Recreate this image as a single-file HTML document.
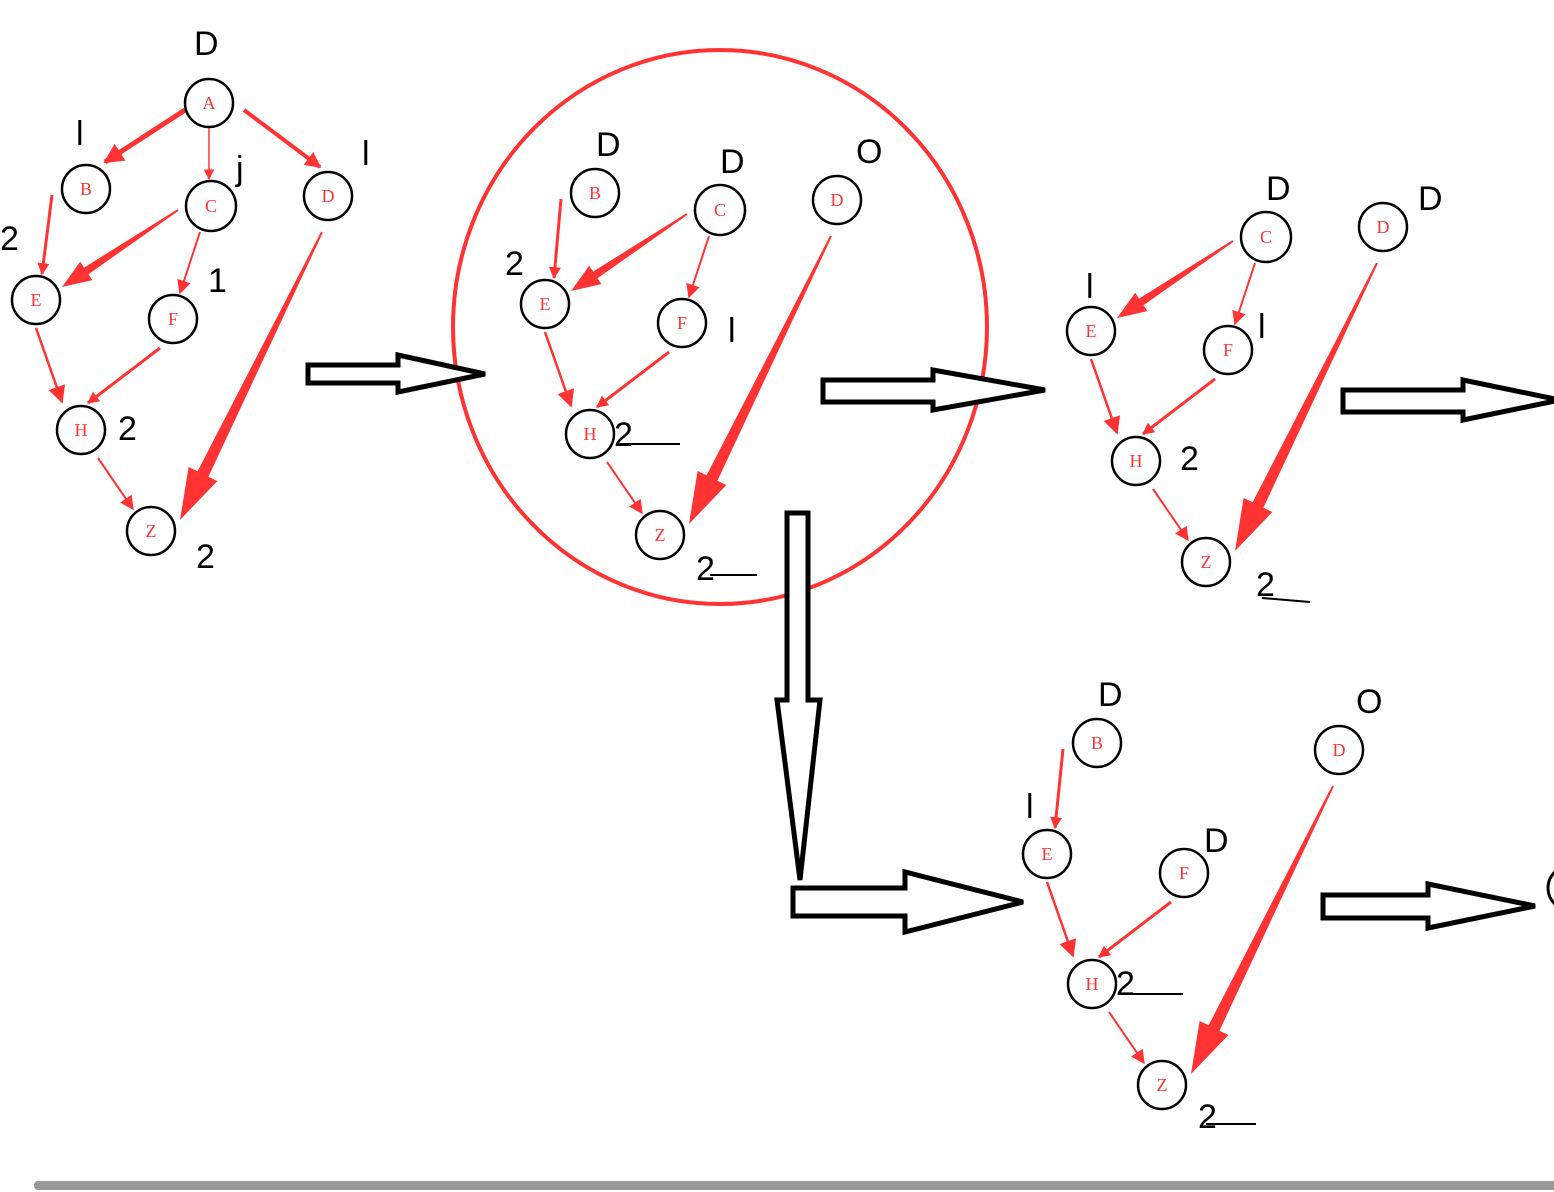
<!DOCTYPE html>
<html><head><meta charset="utf-8"><style>
html,body{margin:0;padding:0;background:#fff;width:1554px;height:1192px;overflow:hidden}
svg{display:block}
.n{fill:#fff;stroke:#000;stroke-width:2.5}
.nl{font-family:"Liberation Serif",serif;font-size:18px;fill:#f33;text-anchor:middle}
.e{stroke:#f33;fill:none}
.w{fill:#f33}
.h{font-family:"Liberation Sans",sans-serif;font-size:34px;fill:#000}
.ar{fill:#fff;stroke:#000;stroke-width:5;stroke-linejoin:miter}
</style></head><body>
<svg width="1554" height="1192" viewBox="0 0 1554 1192">
<defs>
<marker id="m" viewBox="0 0 10 10" refX="9" refY="5" markerWidth="4" markerHeight="4" orient="auto" markerUnits="strokeWidth"><path d="M0,0L10,5L0,10z" fill="#f33"/></marker>
<marker id="mt" viewBox="0 0 10 10" refX="9" refY="5" markerWidth="7" markerHeight="7" orient="auto" markerUnits="strokeWidth"><path d="M0,0L10,5L0,10z" fill="#f33"/></marker>
</defs>

<ellipse cx="720" cy="327" rx="267" ry="277" fill="none" stroke="#f33" stroke-width="4"/>

<polygon class="ar" points="308,365 398,365 398,355 485,374 398,392 398,383 308,383"/>
<polygon class="ar" points="823,380 933,380 933,370 1045,390 933,410 933,402 823,402"/>
<polygon class="ar" points="1343,390 1463,390 1463,380 1560,400 1463,420 1463,412 1343,412"/>
<polygon class="ar" points="1323,895 1428,895 1428,884 1535,906 1428,928 1428,918 1323,918"/>
<polygon class="ar" points="787,513 808,513 808,700 820,700 800,880 777,700 787,700"/>
<polygon class="ar" points="793,888 905,888 905,872 1023,902 905,932 905,916 793,916"/>

<!-- Graph 1 -->
<line class="e" x1="185" y1="110" x2="105" y2="162" stroke-width="5" marker-end="url(#m)"/>
<line class="e" x1="209" y1="128" x2="209" y2="179" stroke-width="1.5" marker-end="url(#mt)"/>
<line class="e" x1="244" y1="110" x2="320" y2="167" stroke-width="4" marker-end="url(#m)"/>
<line class="e" x1="52" y1="195" x2="42" y2="274" stroke-width="3" marker-end="url(#m)"/>
<polygon class="w" points="178.6,210.8 88.5,274.2 92.4,280.1 62,287 80.2,261.7 84.1,267.6 177.4,209.2"/>
<line class="e" x1="200" y1="232" x2="180" y2="293" stroke-width="2" marker-end="url(#mt)"/>
<line class="e" x1="36" y1="328" x2="62" y2="402" stroke-width="2.5" marker-end="url(#mt)"/>
<line class="e" x1="160" y1="348" x2="88" y2="403" stroke-width="3" marker-end="url(#m)"/>
<line class="e" x1="98" y1="458" x2="133" y2="509" stroke-width="2" marker-end="url(#mt)"/>
<polygon class="w" points="322.9,232.4 208.4,476.7 217.4,481 180,520 188.6,467 197.6,471.3 321.1,231.6"/>
<circle class="n" cx="209" cy="103" r="24"/><text class="nl" x="209" y="109">A</text>
<circle class="n" cx="86" cy="189" r="24"/><text class="nl" x="86" y="195">B</text>
<circle class="n" cx="211" cy="206" r="25"/><text class="nl" x="211" y="212">C</text>
<circle class="n" cx="328" cy="196" r="24"/><text class="nl" x="328" y="202">D</text>
<circle class="n" cx="36" cy="300" r="24"/><text class="nl" x="36" y="306">E</text>
<circle class="n" cx="173" cy="319" r="24"/><text class="nl" x="173" y="325">F</text>
<circle class="n" cx="81" cy="430" r="24"/><text class="nl" x="81" y="436">H</text>
<circle class="n" cx="151" cy="531" r="24"/><text class="nl" x="151" y="537">Z</text>
<text class="h" x="194" y="55">D</text>
<text class="h" x="76" y="145">l</text>
<text class="h" x="236" y="180" font-size="26">j</text>
<text class="h" x="362" y="165">l</text>
<text class="h" x="0" y="250">2</text>
<text class="h" x="208" y="292">1</text>
<text class="h" x="118" y="440">2</text>
<text class="h" x="196" y="568">2</text>

<!-- Graph 2 -->
<g transform="translate(509,4)">
<line class="e" x1="52" y1="195" x2="45" y2="274" stroke-width="3" marker-end="url(#m)"/>
<polygon class="w" points="178.6,210.8 88.5,274.2 92.4,280.1 62,287 80.2,261.7 84.1,267.6 177.4,209.2"/>
<line class="e" x1="200" y1="232" x2="180" y2="293" stroke-width="2" marker-end="url(#mt)"/>
<line class="e" x1="36" y1="328" x2="62" y2="402" stroke-width="2.5" marker-end="url(#mt)"/>
<line class="e" x1="160" y1="348" x2="88" y2="403" stroke-width="3" marker-end="url(#m)"/>
<line class="e" x1="98" y1="458" x2="133" y2="509" stroke-width="2" marker-end="url(#mt)"/>
<polygon class="w" points="322.9,232.4 208.4,476.7 217.4,481 180,520 188.6,467 197.6,471.3 321.1,231.6"/>
<circle class="n" cx="86" cy="189" r="24"/><text class="nl" x="86" y="195">B</text>
<circle class="n" cx="211" cy="206" r="25"/><text class="nl" x="211" y="212">C</text>
<circle class="n" cx="328" cy="196" r="24"/><text class="nl" x="328" y="202">D</text>
<circle class="n" cx="36" cy="300" r="24"/><text class="nl" x="36" y="306">E</text>
<circle class="n" cx="173" cy="319" r="24"/><text class="nl" x="173" y="325">F</text>
<circle class="n" cx="81" cy="430" r="24"/><text class="nl" x="81" y="436">H</text>
<circle class="n" cx="151" cy="531" r="24"/><text class="nl" x="151" y="537">Z</text>
</g>
<text class="h" x="596" y="156">D</text>
<text class="h" x="720" y="173">D</text>
<text class="h" x="856" y="163" font-size="30">O</text>
<text class="h" x="505" y="275">2</text>
<text class="h" x="728" y="342">l</text>
<text class="h" x="614" y="446">2</text>
<line x1="620" y1="444" x2="680" y2="444" stroke="#000" stroke-width="2"/>
<text class="h" x="696" y="580" font-size="40">2</text>
<line x1="710" y1="575" x2="757" y2="575" stroke="#000" stroke-width="2"/>

<!-- Graph 3 -->
<g transform="translate(1055,31)">
<polygon class="w" points="178.6,210.8 88.5,274.2 92.4,280.1 62,287 80.2,261.7 84.1,267.6 177.4,209.2"/>
<line class="e" x1="200" y1="232" x2="180" y2="293" stroke-width="2" marker-end="url(#mt)"/>
<line class="e" x1="36" y1="328" x2="62" y2="402" stroke-width="2.5" marker-end="url(#mt)"/>
<line class="e" x1="160" y1="348" x2="88" y2="403" stroke-width="3" marker-end="url(#m)"/>
<line class="e" x1="98" y1="458" x2="133" y2="509" stroke-width="2" marker-end="url(#mt)"/>
<polygon class="w" points="322.9,232.4 208.4,476.7 217.4,481 180,520 188.6,467 197.6,471.3 321.1,231.6"/>
<circle class="n" cx="211" cy="206" r="25"/><text class="nl" x="211" y="212">C</text>
<circle class="n" cx="328" cy="196" r="24"/><text class="nl" x="328" y="202">D</text>
<circle class="n" cx="36" cy="300" r="24"/><text class="nl" x="36" y="306">E</text>
<circle class="n" cx="173" cy="319" r="24"/><text class="nl" x="173" y="325">F</text>
<circle class="n" cx="81" cy="430" r="24"/><text class="nl" x="81" y="436">H</text>
<circle class="n" cx="151" cy="531" r="24"/><text class="nl" x="151" y="537">Z</text>
</g>
<text class="h" x="1266" y="200">D</text>
<text class="h" x="1418" y="210">D</text>
<text class="h" x="1086" y="298">l</text>
<text class="h" x="1258" y="338" font-size="26">l</text>
<text class="h" x="1180" y="470">2</text>
<text class="h" x="1256" y="596" font-size="40">2</text>
<line x1="1262" y1="598" x2="1310" y2="602" stroke="#000" stroke-width="2"/>

<!-- Graph 4 -->
<g transform="translate(1011,554)">
<line class="e" x1="52" y1="195" x2="44" y2="274" stroke-width="3" marker-end="url(#m)"/>
<line class="e" x1="36" y1="328" x2="62" y2="402" stroke-width="2.5" marker-end="url(#mt)"/>
<line class="e" x1="160" y1="348" x2="88" y2="403" stroke-width="3" marker-end="url(#m)"/>
<line class="e" x1="98" y1="458" x2="133" y2="509" stroke-width="2" marker-end="url(#mt)"/>
<polygon class="w" points="322.9,232.4 208.4,476.7 217.4,481 180,520 188.6,467 197.6,471.3 321.1,231.6"/>
<circle class="n" cx="86" cy="189" r="24"/><text class="nl" x="86" y="195">B</text>
<circle class="n" cx="328" cy="196" r="24"/><text class="nl" x="328" y="202">D</text>
<circle class="n" cx="36" cy="300" r="24"/><text class="nl" x="36" y="306">E</text>
<circle class="n" cx="173" cy="319" r="24"/><text class="nl" x="173" y="325">F</text>
<circle class="n" cx="81" cy="430" r="24"/><text class="nl" x="81" y="436">H</text>
<circle class="n" cx="151" cy="531" r="24"/><text class="nl" x="151" y="537">Z</text>
</g>
<text class="h" x="1098" y="706">D</text>
<text class="h" x="1356" y="713" font-size="30">O</text>
<text class="h" x="1026" y="818" font-size="26">l</text>
<text class="h" x="1204" y="852">D</text>
<text class="h" x="1116" y="995">2</text>
<line x1="1122" y1="994" x2="1183" y2="994" stroke="#000" stroke-width="2"/>
<text class="h" x="1198" y="1128" font-size="40">2</text>
<line x1="1206" y1="1124" x2="1256" y2="1124" stroke="#000" stroke-width="2"/>

<circle cx="1570" cy="888" r="22" fill="none" stroke="#000" stroke-width="3"/>

<rect x="34" y="1181" width="1530" height="9" rx="4" fill="#999"/>
</svg>
</body></html>
